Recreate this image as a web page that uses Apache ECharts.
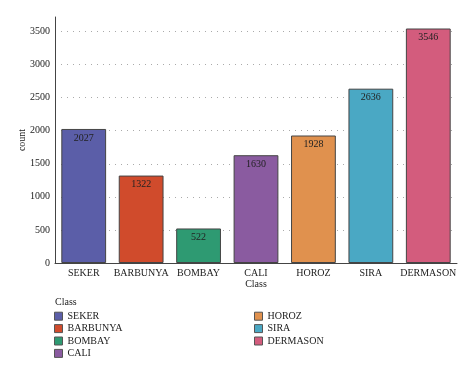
<!DOCTYPE html>
<html>
<head>
<meta charset="utf-8">
<script src="https://cdn.jsdelivr.net/npm/echarts@6/dist/echarts.min.js"></script>
<style>html,body{margin:0;padding:0;background:#fff;}#c{width:474px;height:375px;}</style>
</head>
<body>
<div id="c"></div>
<script>
const categories = ['SEKER', 'BARBUNYA', 'BOMBAY', 'CALI', 'HOROZ', 'SIRA', 'DERMASON'];
const counts = [2027, 1322, 522, 1630, 1928, 2636, 3546];
const colors = ['#5b5ea8', '#d04b2c', '#2e9a72', '#8a5ba0', '#e0914e', '#4aa8c4', '#d35c7d'];
const yTicks = [0, 500, 1000, 1500, 2000, 2500, 3000, 3500];

const FONT = 'Liberation Serif';
const chart = echarts.init(document.getElementById('c'), null, {renderer: 'canvas'});

const series = categories.map((name, i) => ({
  name: name,
  type: 'bar',
  stack: 'all',
  barWidth: '78%',
  data: categories.map((c, j) => (j === i ? counts[i] : '-')),
  itemStyle: {color: colors[i], borderColor: '#444', borderWidth: 1},
  label: {
    show: true,
    position: 'insideTop',
    distance: 4,
    color: '#222',
    fontFamily: FONT,
    fontSize: 10
  }
}));

const legendCommon = {
  orient: 'vertical',
  icon: 'rect',
  itemWidth: 8,
  itemHeight: 8,
  itemGap: 0,
  selectedMode: false,
  padding: 0,
  itemStyle: {borderColor: '#555', borderWidth: 1},
  textStyle: {fontFamily: FONT, fontSize: 10, color: '#222', lineHeight: 12.4, padding: [0, 0, 0, 0]}
};

chart.setOption({
  animation: false,
  backgroundColor: '#fff',
  grid: {left: 55, right: 17, top: 17, bottom: 112, containLabel: false},
  xAxis: {
    type: 'category',
    data: categories,
    name: 'Class',
    nameLocation: 'middle',
    nameGap: 16,
    nameMoveOverlap: false,
    nameTextStyle: {fontFamily: FONT, fontSize: 10, color: '#222'},
    axisLine: {lineStyle: {color: '#444', width: 1}},
    axisTick: {show: false},
    axisLabel: {fontFamily: FONT, fontSize: 10, color: '#222', margin: 5, interval: 0}
  },
  yAxis: {
    type: 'value',
    min: 0,
    max: 3720,
    interval: 500,
    name: 'count',
    nameLocation: 'middle',
    nameGap: 28,
    nameMoveOverlap: false,
    nameTextStyle: {fontFamily: FONT, fontSize: 10, color: '#222'},
    axisLine: {show: true, lineStyle: {color: '#444', width: 1}},
    axisTick: {show: false},
    axisLabel: {
      fontFamily: FONT, fontSize: 10, color: '#222', margin: 5,
      showMaxLabel: false,
      formatter: v => (yTicks.indexOf(v) >= 0 ? String(v) : '')
    },
    splitLine: {show: true, showMinLine: false, showMaxLine: false, lineStyle: {color: '#aaa', type: [1, 5], width: 1}}
  },
  legend: [
    Object.assign({}, legendCommon, {left: 54, top: 310, data: categories.slice(0, 4)}),
    Object.assign({}, legendCommon, {left: 254, top: 310, data: categories.slice(4)})
  ],
  graphic: [{
    type: 'text',
    left: 55,
    top: 297,
    style: {text: 'Class', fontFamily: FONT, fontSize: 10, fill: '#222'}
  }],
  series: series
});
</script>
</body>
</html>
